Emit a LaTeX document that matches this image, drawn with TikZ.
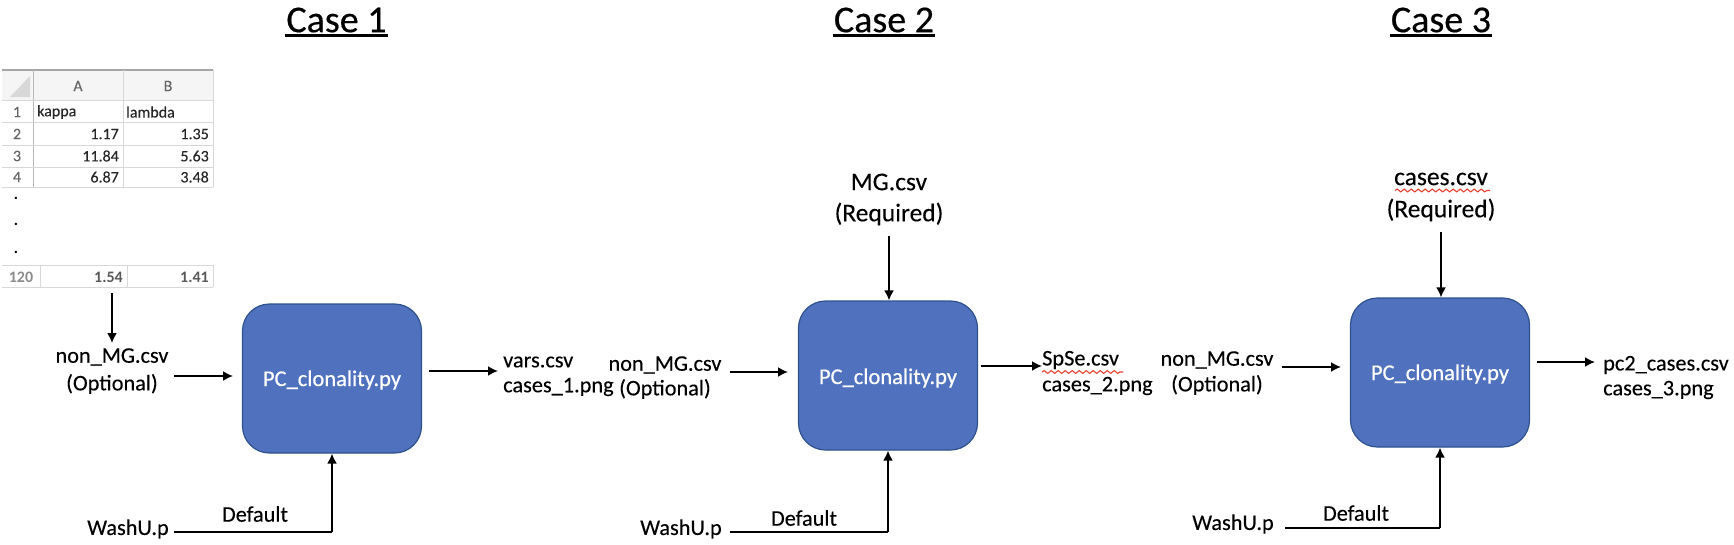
\documentclass[tikz,border=0pt]{standalone}
\usepackage{fontspec}
\setmainfont[FakeBold=0.2]{Carlito}
\newfontfamily\boxfont[FakeBold=0.6]{Carlito}
\newfontfamily\titlefont[FakeBold=0.4]{Carlito}
\newfontfamily\cellfont[FakeBold=0.2]{Carlito}
\newfontfamily\lastfont{Carlito}
\usetikzlibrary{arrows.meta,decorations.pathmorphing}
\definecolor{boxfill}{HTML}{4F71BE}
\definecolor{boxline}{HTML}{2F528F}
\definecolor{gridline}{HTML}{D8D8D8}
\definecolor{headfill}{HTML}{F5F5F5}
\definecolor{rowtxt}{HTML}{666666}
\definecolor{wavy}{HTML}{E8402F}
\tikzset{
  x=1pt,y=-1pt,
  proc/.style={draw=boxline,line width=1.2pt,fill=boxfill,rounded corners=27pt,minimum width=179pt,minimum height=149pt,inner sep=0pt},
  title/.style={font=\titlefont\fontsize{38}{44}\selectfont,inner sep=0pt},
  lab/.style={font=\fontsize{22.3}{24}\selectfont,inner sep=0pt,text=black},
  big/.style={font=\fontsize{25.5}{28}\selectfont,inner sep=0pt,text=black},
  boxlab/.style={font=\boxfont\fontsize{22.5}{24}\selectfont,inner sep=0pt,text=white},
  flow/.style={line width=1.8pt,-{Latex[length=10pt,width=10pt]}},
  plainline/.style={line width=1.8pt},
  titleline/.style={line width=3pt},
  cell/.style={font=\cellfont\fontsize{16}{17}\selectfont,inner sep=0pt,text=black!85},
  dotcell/.style={font=\lastfont\bfseries\fontsize{16}{17}\selectfont,inner sep=0pt,text=black},
  lastcell/.style={font=\lastfont\bfseries\fontsize{16}{17}\selectfont,inner sep=0pt,text=black!65},
  hcell/.style={font=\cellfont\fontsize{16}{17}\selectfont,inner sep=0pt,text=rowtxt},
  grid/.style={draw=gridline,line width=1pt},
  squiggle/.style={draw=wavy,line width=1.1pt,decorate,decoration={snake,amplitude=1.4pt,segment length=7pt}}
}
\begin{document}
\begin{tikzpicture}
\useasboundingbox (0,0) rectangle (1734,544);
% titles
\node[title] (t1) at (336.5,20) {Case 1};
\node[title] (t2) at (884,20) {Case 2};
\node[title] (t3) at (1441,20) {Case 3};
\draw[titleline] ([xshift=-1pt]t1.west |- 0,35.5) -- ([xshift=1pt]t1.east |- 0,35.5);
\draw[titleline] ([xshift=-1pt]t2.west |- 0,35.5) -- ([xshift=1pt]t2.east |- 0,35.5);
\draw[titleline] ([xshift=-1pt]t3.west |- 0,35.5) -- ([xshift=1pt]t3.east |- 0,35.5);
% spreadsheet
\fill[headfill] (2,70) rectangle (213,100);
\fill[gridline] (10,97) -- (30,97) -- (30,76) -- cycle;
\draw[draw=black!35,line width=1.2pt] (2,70) -- (213,70);
\draw[draw=black!28,line width=1pt] (33,70) -- (33,187);
\draw[grid] (123,70) -- (123,187) (213,70) -- (213,187);
\draw[grid] (2,100) -- (213,100) (2,122) -- (213,122) (2,145) -- (213,145) (2,167) -- (213,167) (2,187) -- (213,187);
\draw[grid] (2,265) -- (213,265) (2,287) -- (213,287) (40,265) -- (40,287) (127,265) -- (127,287) (213,265) -- (213,287);
\node[hcell] (ha) at (78,86) {A};
\node[hcell] (hb) at (168,86) {B};
\node[hcell] (r1) at (17,112) {1};
\node[hcell] (r2) at (17,134) {2};
\node[hcell] (r3) at (17,156) {3};
\node[hcell] (r4) at (17,177) {4};
\node[cell,anchor=west] (c1a) at (37,112) {kappa};
\node[cell,anchor=west] (c1b) at (126,112) {lambda};
\node[cell,anchor=east] (c2a) at (119,134) {1.17};
\node[cell,anchor=east] (c2b) at (209,134) {1.35};
\node[cell,anchor=east] (c3a) at (119,156) {11.84};
\node[cell,anchor=east] (c3b) at (209,156) {5.63};
\node[cell,anchor=east] (c4a) at (119,177) {6.87};
\node[cell,anchor=east] (c4b) at (209,177) {3.48};
\node[dotcell] (d1) at (16,198) {.};
\node[dotcell] (d2) at (16,224) {.};
\node[dotcell] (d3) at (16,252) {.};
\node[lastcell,text=black!45] (r120) at (21,277) {120};
\node[lastcell,anchor=east] (l120a) at (123,277) {1.54};
\node[lastcell,anchor=east] (l120b) at (209,277) {1.41};
% process boxes
\node[proc] (box1) at (332,378.5) {};
\node[proc] (box2) at (888,375.5) {};
\node[proc] (box3) at (1440,372.5) {};
\node[boxlab] (p1) at (332,380) {PC\_clonality.py};
\node[boxlab] (p2) at (888,378) {PC\_clonality.py};
\node[boxlab] (p3) at (1440,374) {PC\_clonality.py};
% case 1
\node[lab] (o1a) at (112,357) {non\_MG.csv};
\node[lab] (o1b) at (112,384) {(Optional)};
\node[lab,anchor=west] (v1) at (503,362) {vars.csv};
\node[lab,anchor=west] (v2) at (503,387) {cases\_1.png};
\node[lab] (w1) at (128,529) {WashU.p};
\node[lab] (dflt1) at (255,514) {Default};
\coordinate (top1) at (112,293);
\coordinate (top1e) at (112,343);
\coordinate (a1s) at (174,376);
\coordinate (a1e) at (233,376);
\coordinate (b1s) at (429,371);
\coordinate (b1e) at (498,371);
\coordinate (c1s) at (174,532);
\coordinate (c1m) at (332,532);
\draw[flow] (top1) -- (top1e);
\draw[flow] (a1s) -- (a1e);
\draw[flow] (b1s) -- (b1e);
\draw[plainline] (c1s) -- (c1m);
\draw[flow] (c1m) -- (box1.south);
% case 2
\node[big] (m2a) at (889,182) {MG.csv};
\node[big] (m2b) at (889,214) {(Required)};
\node[lab] (o2a) at (665,365) {non\_MG.csv};
\node[lab] (o2b) at (665,389) {(Optional)};
\node[lab,anchor=west] (s2) at (1042,360) {SpSe.csv};
\node[lab,anchor=west] (s3) at (1042,386) {cases\_2.png};
\node[lab] (w2) at (681,529) {WashU.p};
\node[lab] (dflt2) at (804,518) {Default};
\coordinate (top2) at (889,236);
\coordinate (a2s) at (730,372);
\coordinate (a2e) at (788,372);
\coordinate (b2s) at (981,366);
\coordinate (b2e) at (1042,366);
\coordinate (c2s) at (730,532);
\coordinate (c2m) at (888,532);
\draw[flow] (top2) -- (top2 |- box2.north);
\draw[flow] (a2s) -- (a2e);
\draw[flow] (b2s) -- (b2e);
\draw[plainline] (c2s) -- (c2m);
\draw[flow] (c2m) -- (box2.south);
\draw[squiggle] (1042,372) -- (1123,372);
% case 3
\node[big] (m3a) at (1441,179) {cases.csv};
\node[big] (m3b) at (1441,210) {(Required)};
\node[lab] (o3a) at (1217,360) {non\_MG.csv};
\node[lab] (o3b) at (1217,385) {(Optional)};
\node[lab,anchor=west] (s4) at (1603,365) {pc2\_cases.csv};
\node[lab,anchor=west] (s5) at (1603,390) {cases\_3.png};
\node[lab] (w3) at (1233,524) {WashU.p};
\node[lab] (dflt3) at (1356,513) {Default};
\coordinate (top3) at (1441,232);
\coordinate (a3s) at (1282,367);
\coordinate (a3e) at (1341,367);
\coordinate (b3s) at (1537,362);
\coordinate (b3e) at (1595,362);
\coordinate (c3s) at (1285,528);
\coordinate (c3m) at (1440,528);
\draw[flow] (top3) -- (top3 |- box3.north);
\draw[flow] (a3s) -- (a3e);
\draw[flow] (b3s) -- (b3e);
\draw[plainline] (c3s) -- (c3m);
\draw[flow] (c3m) -- (box3.south);
\draw[squiggle] (1395,190.5) -- (1490,190.5);
\end{tikzpicture}
\end{document}
